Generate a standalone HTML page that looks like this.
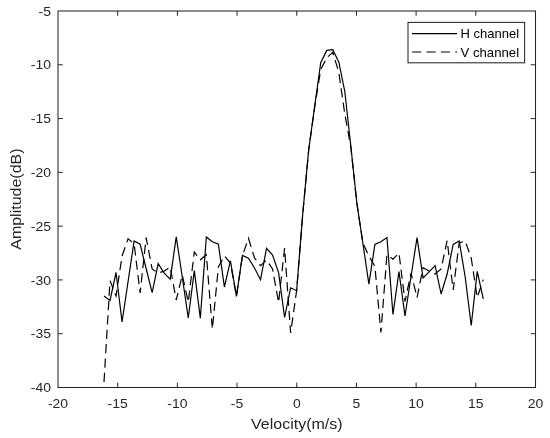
<!DOCTYPE html>
<html><head><meta charset="utf-8"><title>Doppler spectrum</title>
<style>
html,body{margin:0;padding:0;background:#fff}
svg{display:block}
text{font-family:"Liberation Sans",Arial,sans-serif;fill:#262626}
.tk{font-size:13.3px}
.lg{font-size:12.4px;fill:#000}
.lb{font-size:14.9px}
</style></head><body>
<svg width="550" height="438" viewBox="0 0 550 438">
<rect width="550" height="438" fill="#fff"/>
<rect x="58.0" y="11.0" width="477.5" height="376.5" fill="#fff" stroke="#262626" stroke-width="1.05"/>
<text class="tk" transform="translate(58.00 407.9) scale(1.05 1)" text-anchor="middle">-20</text>
<path d="M117.69 387.5v-4.8M117.69 11.0v4.8" stroke="#262626" stroke-width="1"/>
<text class="tk" transform="translate(117.69 407.9) scale(1.05 1)" text-anchor="middle">-15</text>
<path d="M177.38 387.5v-4.8M177.38 11.0v4.8" stroke="#262626" stroke-width="1"/>
<text class="tk" transform="translate(177.38 407.9) scale(1.05 1)" text-anchor="middle">-10</text>
<path d="M237.06 387.5v-4.8M237.06 11.0v4.8" stroke="#262626" stroke-width="1"/>
<text class="tk" transform="translate(237.06 407.9) scale(1.05 1)" text-anchor="middle">-5</text>
<path d="M296.75 387.5v-4.8M296.75 11.0v4.8" stroke="#262626" stroke-width="1"/>
<text class="tk" transform="translate(296.75 407.9) scale(1.05 1)" text-anchor="middle">0</text>
<path d="M356.44 387.5v-4.8M356.44 11.0v4.8" stroke="#262626" stroke-width="1"/>
<text class="tk" transform="translate(356.44 407.9) scale(1.05 1)" text-anchor="middle">5</text>
<path d="M416.12 387.5v-4.8M416.12 11.0v4.8" stroke="#262626" stroke-width="1"/>
<text class="tk" transform="translate(416.12 407.9) scale(1.05 1)" text-anchor="middle">10</text>
<path d="M475.81 387.5v-4.8M475.81 11.0v4.8" stroke="#262626" stroke-width="1"/>
<text class="tk" transform="translate(475.81 407.9) scale(1.05 1)" text-anchor="middle">15</text>
<text class="tk" transform="translate(535.50 407.9) scale(1.05 1)" text-anchor="middle">20</text>
<text class="tk" transform="translate(51.0 15.70) scale(1.05 1)" text-anchor="end">-5</text>
<path d="M58.0 64.79h4.8M535.5 64.79h-4.8" stroke="#262626" stroke-width="1"/>
<text class="tk" transform="translate(51.0 69.49) scale(1.05 1)" text-anchor="end">-10</text>
<path d="M58.0 118.57h4.8M535.5 118.57h-4.8" stroke="#262626" stroke-width="1"/>
<text class="tk" transform="translate(51.0 123.27) scale(1.05 1)" text-anchor="end">-15</text>
<path d="M58.0 172.36h4.8M535.5 172.36h-4.8" stroke="#262626" stroke-width="1"/>
<text class="tk" transform="translate(51.0 177.06) scale(1.05 1)" text-anchor="end">-20</text>
<path d="M58.0 226.14h4.8M535.5 226.14h-4.8" stroke="#262626" stroke-width="1"/>
<text class="tk" transform="translate(51.0 230.84) scale(1.05 1)" text-anchor="end">-25</text>
<path d="M58.0 279.93h4.8M535.5 279.93h-4.8" stroke="#262626" stroke-width="1"/>
<text class="tk" transform="translate(51.0 284.63) scale(1.05 1)" text-anchor="end">-30</text>
<path d="M58.0 333.71h4.8M535.5 333.71h-4.8" stroke="#262626" stroke-width="1"/>
<text class="tk" transform="translate(51.0 338.41) scale(1.05 1)" text-anchor="end">-35</text>
<text class="tk" transform="translate(51.0 392.20) scale(1.05 1)" text-anchor="end">-40</text>
<polyline points="104.00,296.00 110.02,300.40 116.04,272.50 122.06,322.00 128.08,281.50 134.10,241.00 140.12,244.20 146.14,268.50 152.16,292.70 158.18,263.60 164.20,273.20 170.22,279.20 176.24,236.80 182.26,277.00 188.28,318.00 194.30,270.60 200.32,318.20 206.34,237.00 212.36,241.70 218.38,244.20 224.40,287.00 230.42,260.80 236.44,296.30 242.46,255.50 248.48,258.30 254.50,268.00 260.52,279.70 266.54,248.30 272.56,255.00 278.58,272.60 284.60,317.50 290.62,287.80 296.64,290.70 302.66,215.00 308.68,150.00 314.70,106.00 320.72,62.70 326.74,50.40 332.76,49.70 338.78,62.00 344.80,91.50 350.82,146.00 356.84,203.00 362.86,243.00 368.88,284.10 374.90,244.40 380.92,241.80 386.94,237.50 392.96,314.50 398.98,271.60 405.00,316.00 411.02,276.50 417.04,237.60 423.06,278.00 429.08,271.80 435.10,265.70 441.12,294.00 447.14,274.00 453.16,244.40 459.18,241.00 465.20,277.00 471.22,325.50 477.24,271.40 483.26,298.80" fill="none" stroke="#000" stroke-width="1.2" stroke-linejoin="miter"/>
<polyline points="104.00,382.00 110.02,280.70 116.04,296.00 122.06,256.00 128.08,238.70 134.10,243.70 140.12,293.00 146.14,237.60 152.16,269.00 158.18,272.90 164.20,271.20 170.22,267.00 176.24,300.00 182.26,275.00 188.28,302.00 194.30,252.00 200.32,259.80 206.34,254.70 212.36,329.00 218.38,267.00 224.40,256.00 230.42,263.00 236.44,296.00 242.46,255.50 248.48,238.30 254.50,258.00 260.52,265.70 266.54,260.00 272.56,269.00 278.58,302.50 284.60,248.00 290.62,333.00 296.64,290.50 302.66,215.00 308.68,150.00 314.70,107.00 320.72,69.60 326.74,57.90 332.76,52.40 338.78,72.30 344.80,114.00 350.82,147.00 356.84,203.00 362.86,243.00 368.88,256.00 374.90,266.30 380.92,332.50 386.94,254.70 392.96,259.20 398.98,253.00 405.00,301.50 411.02,273.00 417.04,297.50 423.06,267.70 429.08,271.00 435.10,274.00 441.12,269.00 447.14,240.60 453.16,290.00 459.18,243.00 465.20,241.00 471.22,258.00 477.24,297.50 483.26,279.60" fill="none" stroke="#000" stroke-width="1.2" stroke-dasharray="9.2 5.2" stroke-linejoin="miter"/>
<rect x="408" y="22.4" width="116.6" height="40.4" fill="#fff" stroke="#262626" stroke-width="1.05"/>
<path d="M412.1 33.7H457.1" stroke="#000" stroke-width="1.2"/>
<path d="M412.1 52H457.1" stroke="#000" stroke-width="1.2" stroke-dasharray="9.2 5.2"/>
<text class="lg" x="460.5" y="38.3" textLength="58.6" lengthAdjust="spacingAndGlyphs">H channel</text>
<text class="lg" x="460.5" y="56.6" textLength="58.6" lengthAdjust="spacingAndGlyphs">V channel</text>
<text class="lb" x="296.8" y="429.4" text-anchor="middle" textLength="91.6" lengthAdjust="spacingAndGlyphs">Velocity(m/s)</text>
<text class="lb" transform="translate(20.6 199.1) rotate(-90)" text-anchor="middle" textLength="101.4" lengthAdjust="spacingAndGlyphs">Amplitude(dB)</text>
</svg>
</body></html>
